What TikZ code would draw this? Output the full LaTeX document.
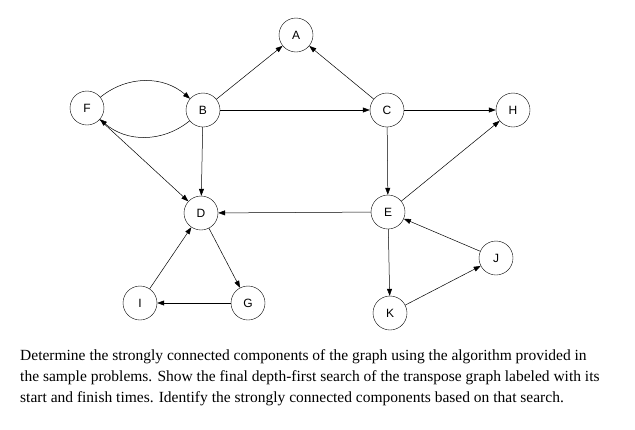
\documentclass[tikz,border=0pt]{standalone}
\usepackage{fontspec}
\setmainfont{Liberation Serif}
\newfontfamily\lsans{Liberation Sans}
\usetikzlibrary{arrows.meta}
\begin{document}
\begin{tikzpicture}[x=1pt,y=-1pt,
  v/.style={circle,draw,fill=white,minimum size=34pt,inner sep=0pt,font=\lsans\fontsize{12}{14}\selectfont},
  e/.style={-{Triangle[length=7pt,width=5pt]},line width=0.5pt},
  txt/.style={anchor=west,inner sep=0pt,font=\fontsize{15.5}{18}\selectfont}]
\useasboundingbox (0,0) rectangle (635,429);
\node[v] (A) at (296,35) {A};
\node[v] (B) at (203,110) {B};
\node[v] (C) at (387,110) {C};
\node[v] (H) at (513,110) {H};
\node[v] (F) at (87,108) {F};
\node[v] (D) at (201,213) {D};
\node[v] (E) at (388,212) {E};
\node[v] (J) at (496,258) {J};
\node[v] (I) at (140,303) {I};
\node[v] (G) at (248,303) {G};
\node[v] (K) at (390,313) {K};
\draw[e] (B) -- (A);
\draw[e] (C) -- (A);
\draw[e] (B) -- (C);
\draw[e] (C) -- (H);
\draw[e] (C) -- (E);
\draw[e] (E) -- (H);
\draw[e] (F) to[bend left=40] (B);
\draw[e] (B) to[bend left=40] (F);
\draw[e] (F) -- (D);
\draw[e] (B) -- (D);
\draw[e] (E) -- (D);
\draw[e] (E) -- (K);
\draw[e] (K) -- (J);
\draw[e] (J) -- (E);
\draw[e] (D) -- (G);
\draw[e] (I) -- (D);
\draw[e] (G) -- (I);
\node[txt] (t1) at (20,357) {Determine the strongly connected components of the graph using the algorithm provided in};
\node[txt] (t2) at (20,378) {the sample problems. Show the final depth-first search of the transpose graph labeled with its};
\node[txt] (t3) at (20,399) {start and finish times. Identify the strongly connected components based on that search.};
\end{tikzpicture}
\end{document}
